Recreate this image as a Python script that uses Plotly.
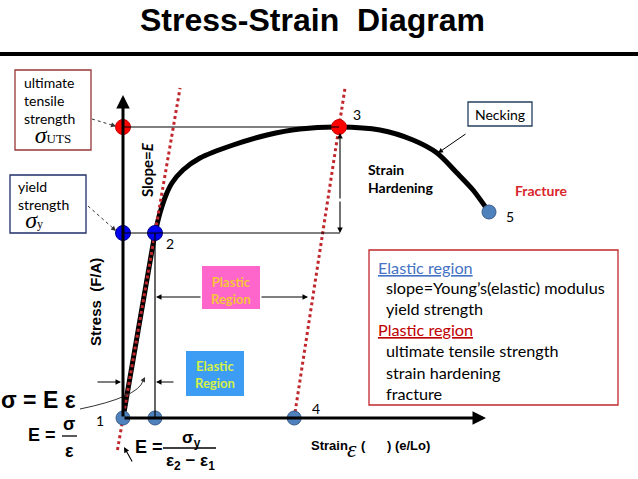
import plotly.graph_objects as go

# ---------------- data ----------------
elastic_strain = [0.0, 0.2]
elastic_stress = [0.0, 1.85]
plastic_strain = [0.2, 0.231, 0.269, 0.306, 0.375, 0.481, 0.688, 0.9, 1.106, 1.35,
                  1.606, 1.8125, 1.9625, 2.0875, 2.1875, 2.2875]
plastic_stress = [1.85, 2.05, 2.23, 2.35, 2.48, 2.60, 2.73, 2.83, 2.89, 2.91,
                  2.88, 2.78, 2.65, 2.45, 2.28, 2.06]
yield_strain, yield_stress = 0.2, 1.85
uts_strain, uts_stress = 1.35, 2.91
offset_strain = 1.07            # point 4
fracture_strain, fracture_stress = 2.2875, 2.06
point_labels = ["1", "2", "3", "4", "5"]
info_lines = ["Elastic region", "slope=Young\u2019s(elastic) modulus", "yield strength",
              "Plastic region", "ultimate tensile strength", "strain hardening", "fracture"]

# ---------------- layout helpers (pixel -> axis units) ----------------
W, H = 638, 479
X0, Y0, SX, SY = 123, 418, 160, 100
def X(p): return (p - X0) / SX
def Y(p): return (Y0 - p) / SY

LATO = "Lato"
ARIAL = "Liberation Sans"
SERIF = "Liberation Serif"
NB = "\u00a0"

fig = go.Figure()

# stress-strain curve
fig.add_trace(go.Scatter(x=elastic_strain, y=elastic_stress, mode="lines",
                         line=dict(color="black", width=5), hoverinfo="skip"))
fig.add_trace(go.Scatter(x=plastic_strain, y=plastic_stress, mode="lines",
                         line=dict(color="black", width=5, shape="spline", smoothing=0.8),
                         hoverinfo="skip"))

# red dotted elastic lines
E = yield_stress / yield_strain
s_lo, s_hi = -0.32, 3.30
fig.add_trace(go.Scatter(x=[s_lo / E, s_hi / E], y=[s_lo, s_hi], mode="lines",
                         line=dict(color="#c0282d", width=3, dash="dot"), hoverinfo="skip"))
E2 = uts_stress / (uts_strain - offset_strain)
fig.add_trace(go.Scatter(x=[offset_strain, offset_strain + s_hi / E2], y=[0, s_hi], mode="lines",
                         line=dict(color="#c0282d", width=3, dash="dot"), hoverinfo="skip"))

shapes = []
annotations = []

def line(x0, y0, x1, y1, w=1.2, color="black", dash=None):
    shapes.append(dict(type="line", x0=x0, y0=y0, x1=x1, y1=y1, xref="x", yref="y",
                       line=dict(color=color, width=w, dash=dash)))

def arrow(x0, y0, x1, y1, w=1.2, size=1.0, head=2, color="black"):
    annotations.append(dict(x=x1, y=y1, ax=x0, ay=y0, xref="x", yref="y", axref="x", ayref="y",
                            showarrow=True, arrowhead=head, arrowwidth=w, arrowsize=size,
                            arrowcolor=color, text=""))

def text(t, px, py, size=14, color="black", family=LATO, xa="center", ya="middle", angle=0,
         align="center"):
    annotations.append(dict(x=X(px), y=Y(py), xref="x", yref="y", text=t, showarrow=False,
                            xanchor=xa, yanchor=ya, textangle=angle, align=align,
                            font=dict(size=size, color=color, family=family)))

def rect(x0, y0, x1, y1, color, w=1.3, fill="rgba(0,0,0,0)"):
    shapes.append(dict(type="rect", x0=X(x0), y0=Y(y0), x1=X(x1), y1=Y(y1), xref="x", yref="y",
                       line=dict(color=color, width=w), fillcolor=fill, layer="below"))

SIG = "<span style='font-family:Liberation Serif;font-size:24px'><i>\u03c3</i></span>"

# axes with arrows
arrow(0, 0, 0, Y(95), w=3, size=0.9)
arrow(0, 0, X(486), 0, w=3, size=0.9)

# guide lines
line(0, uts_stress, uts_strain, uts_stress)
line(0, yield_stress, X(340), yield_stress)
line(yield_strain, 0, yield_strain, yield_stress)
arrow(X(340), Y(200), X(340), Y(133), w=1.1, size=1)
arrow(X(340), Y(200), X(340), yield_stress, w=1.1, size=1)

# title + underline
text("<b>Stress-Strain  Diagram</b>", 312, 20, size=32, family=ARIAL)
shapes.append(dict(type="line", x0=X(0), x1=X(638), y0=Y(54), y1=Y(54), xref="x", yref="y",
                   line=dict(color="black", width=4)))

# ultimate tensile strength box
rect(15, 70, 91, 150, "#953735")
text("ultimate<br>tensile<br>strength<br>" + NB * 3 + SIG +
     "<span style='font-family:Liberation Serif;font-size:13px'>UTS</span>",
     22, 72, size=14, xa="left", ya="top", align="left")
line(X(92), Y(119), X(115), Y(126), w=1, dash="dot", color="#333333")
arrow(X(112), Y(125), X(116), Y(126.3), w=1, size=1, color="#333333")

# yield strength box
rect(10, 175, 86, 233, "#1f2d6b")
text("yield<br>strength<br>" + NB * 2 + SIG +
     "<span style='font-family:Liberation Serif;font-size:12px'>y</span>",
     16, 176, size=14, xa="left", ya="top", align="left")
line(X(88), Y(206), X(114), Y(229), w=1, dash="dot", color="#333333")
arrow(X(111), Y(226.5), X(116), Y(231), w=1, size=1, color="#333333")

# necking
rect(468, 102, 532, 126, "#243f60")
text("Necking", 500, 114, size=14)
arrow(X(467), Y(133), X(438), Y(153), w=1)

text("<b>Strain<br>Hardening</b>", 366, 178, size=14, xa="left", align="left")
text("<b>Fracture</b>", 513, 190, size=14, color="#d9262b", xa="left")

# slope / axis labels
text("<b>Slope=<i>E</i></b>", 147, 170, size=15, angle=-90)
text("<b>Stress  (F/A)</b>", 95, 302, size=15, family=ARIAL, angle=-90)
text("<b>Strain</b>", 309, 445, size=13, family=ARIAL, xa="left")
text("<i>\u03b5</i>", 352, 449, size=24, family=SERIF)
text("<b>(" + NB * 6 + ") (e/Lo)</b>", 359, 445, size=13, family=ARIAL, xa="left")

# plastic region box and arrows
rect(202, 266, 260, 309, "#ff66cc", w=0, fill="#ff66cc")
text("<b>Plastic<br>Region</b>", 231, 290, size=13, color="#f8c43a")
arrow(X(202), Y(297), X(156), Y(297), w=1.1)
arrow(X(260), Y(297), X(308), Y(297), w=1.1)

# elastic region box and arrows
rect(186, 351, 244, 396, "#3d9df5", w=0, fill="#3d9df5")
text("<b>Elastic<br>Region</b>", 215, 374, size=13, color="#d4f046")
arrow(X(175), Y(382), X(156), Y(382), w=1.1)
arrow(X(96), Y(382), X(121), Y(382), w=1.1)

# curved pointer from formula
shapes.append(dict(type="path", xref="x", yref="y",
                   path=f"M {X(80)},{Y(409)} Q {X(138)},{Y(397)} {X(143)},{Y(381)}",
                   line=dict(color="#333333", width=1)))
arrow(X(142), Y(383), X(145), Y(377), w=1, size=1, color="#333333")
arrow(X(133), Y(463), X(124), Y(447), w=1.1)

# formulas
text("<b>\u03c3 = E \u03b5</b>", 38, 400, size=23, family=ARIAL)
text("<b>E =</b>", 42, 435, size=18, family=ARIAL)
text("<b>\u03c3</b>", 69, 424, size=18, family=ARIAL)
line(X(62), Y(436), X(77), Y(436), w=1.3)
text("<b>\u03b5</b>", 69, 451, size=18, family=ARIAL)
text("<b>E =</b>", 149, 447, size=18, family=ARIAL)
text("<b>\u03c3<sub>y</sub></b>", 191, 439, size=17, family=ARIAL)
line(X(163), Y(448), X(216), Y(448), w=1.3)
text("<b>\u03b5<sub>2</sub> \u2212 \u03b5<sub>1</sub></b>", 190, 462, size=17, family=ARIAL)

# info box
rect(369, 250, 618, 405, "#c0282d", w=1.3)
ys = [267, 287, 308, 329, 350, 372, 393]
for i, (t, yy) in enumerate(zip(info_lines, ys)):
    if i == 0:
        text(f"<u>{t}</u>", 376, yy, size=16.2, color="#4472c4", xa="left")
    elif i == 3:
        text(f"<u>{t}</u>", 376, yy, size=16.2, color="#c00000", xa="left")
    else:
        text(t, 384, yy, size=16.2, xa="left")

# markers
fig.add_trace(go.Scatter(x=[0, yield_strain, offset_strain, fracture_strain],
                         y=[0, 0, 0, fracture_stress], mode="markers",
                         marker=dict(size=14, color="#4f81bd", line=dict(color="#385d8a", width=1)),
                         hoverinfo="skip"))
fig.add_trace(go.Scatter(x=[0, yield_strain], y=[yield_stress, yield_stress], mode="markers",
                         marker=dict(size=15, color="#0000ee", line=dict(color="#000088", width=1)),
                         hoverinfo="skip"))
fig.add_trace(go.Scatter(x=[0, uts_strain], y=[uts_stress, uts_stress], mode="markers",
                         marker=dict(size=15, color="#ff0000", line=dict(color="#cc0000", width=1)),
                         hoverinfo="skip"))

# point number labels
lab_x = [0, yield_strain, uts_strain, offset_strain, fracture_strain]
lab_y = [0, yield_stress, uts_stress, 0, fracture_stress]
lab_dx = [-23, 15, 18, 22, 21]
lab_dy = [-2, -10, 13, 10, -4]
for t, lx, ly, dx, dy in zip(point_labels, lab_x, lab_y, lab_dx, lab_dy):
    annotations.append(dict(x=lx, y=ly, xref="x", yref="y", text=t, showarrow=False,
                            xshift=dx, yshift=dy, font=dict(size=14, family=LATO, color="black")))

fig.update_layout(
    width=W, height=H, margin=dict(l=0, r=0, t=0, b=0),
    paper_bgcolor="white", plot_bgcolor="white", showlegend=False,
    xaxis=dict(range=[X(0), X(W)], visible=False, fixedrange=True),
    yaxis=dict(range=[Y(H), Y(0)], visible=False, fixedrange=True),
    shapes=shapes, annotations=annotations,
)
fig.write_html("out.html", config={"displayModeBar": False},
               post_script="document.body.style.margin='0';"
                           "document.documentElement.style.overflow='hidden';")
